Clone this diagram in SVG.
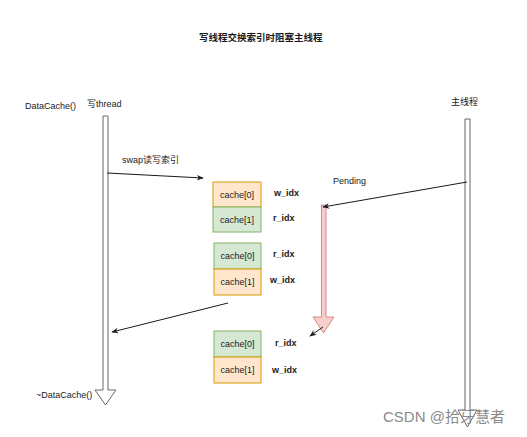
<svg xmlns="http://www.w3.org/2000/svg" width="527" height="437" viewBox="0 0 527 437">
<style>
text{font-family:"Liberation Sans","Noto Sans CJK SC",sans-serif;font-size:9px;fill:#1a1a1a}
.b{font-weight:bold}
.t{font-size:9.5px;font-weight:bold}
.c{text-anchor:middle}
.or{fill:#ffe6cc;stroke:#d79b00;stroke-width:1}
.gr{fill:#d5e8d4;stroke:#82b366;stroke-width:1}
.life{fill:#fff;stroke:#666;stroke-width:1}
.pink{fill:#f8cecc;stroke:#d98888;stroke-width:1}
.ln{stroke:#1a1a1a;stroke-width:1;fill:none;marker-end:url(#ah)}
.wm{font-size:15px;fill:#8a8a8a}
</style>
<defs>
<marker id="ah" viewBox="0 0 10 10" refX="9" refY="5" markerWidth="7" markerHeight="7" orient="auto" markerUnits="userSpaceOnUse">
<path d="M0,1 L10,5 L0,9 L3,5 Z" fill="#1a1a1a"/>
</marker>
</defs>
<rect width="527" height="437" fill="#fff"/>
<text class="t" x="199" y="41">写线程交换索引时阻塞主线程</text>

<g id="write-thread">
<path class="life" d="M103,116 H108 V390 H116 L105.5,405 L95,390 H103 Z"/>
<text x="25" y="109">DataCache()</text>
<text x="87" y="107">写thread</text>
<text x="36" y="398">~DataCache()</text>
</g>

<g id="main-thread">
<path class="life" d="M465,119 H470 V410 H477 L467.5,427 L458,410 H465 Z"/>
<text x="451" y="105">主线程</text>
</g>

<g id="block-arrow">
<path class="pink" d="M321.5,205 H326 V317 H334 L323.5,333 L313,317 H321.5 Z"/>
</g>

<g id="state1">
<rect class="or" x="213" y="182" width="48" height="25"/>
<text class="c" x="237" y="197.5">cache[0]</text>
<rect class="gr" x="213" y="207" width="48" height="25"/>
<text class="c" x="237" y="222.5">cache[1]</text>
<text class="b" x="274" y="196">w_idx</text>
<text class="b" x="273" y="221">r_idx</text>
</g>

<g id="state2">
<rect class="gr" x="214" y="243" width="47" height="26"/>
<text class="c" x="237.5" y="259">cache[0]</text>
<rect class="or" x="214" y="269" width="47" height="26"/>
<text class="c" x="237.5" y="285">cache[1]</text>
<text class="b" x="273" y="257">r_idx</text>
<text class="b" x="270" y="283">w_idx</text>
</g>

<g id="state3">
<rect class="gr" x="214" y="331" width="47" height="26"/>
<text class="c" x="237.5" y="347">cache[0]</text>
<rect class="or" x="214" y="357" width="47" height="26"/>
<text class="c" x="237.5" y="373">cache[1]</text>
<text class="b" x="275" y="346">r_idx</text>
<text class="b" x="272" y="373">w_idx</text>
</g>

<g id="connectors">
<line class="ln" x1="107" y1="173" x2="203" y2="178"/>
<text x="122" y="163">swap读写索引</text>
<line class="ln" x1="467" y1="182" x2="323" y2="207"/>
<text x="333" y="184">Pending</text>
<line class="ln" x1="323" y1="327" x2="310" y2="336"/>
<line class="ln" x1="228" y1="303" x2="112" y2="332"/>
</g>

<text class="wm" x="383" y="422">CSDN @拾牙慧者</text>
</svg>
